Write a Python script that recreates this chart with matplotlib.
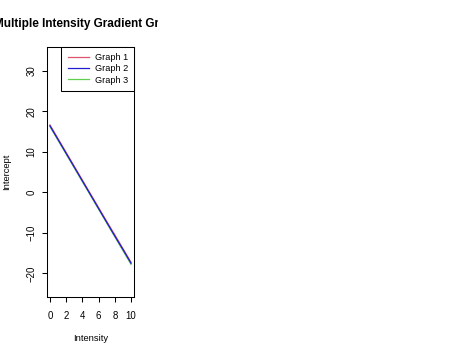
import numpy as np
import matplotlib
matplotlib.use("Agg")
import matplotlib.pyplot as plt
from matplotlib.transforms import Bbox, TransformedBbox

# Datos
intensity = [0, 1, 2, 3, 4, 5, 6, 7, 8, 9, 10]
graph1 = [16.6, 13.2, 9.8, 6.4, 3.0, -0.4, -3.8, -7.2, -10.5, -13.9, -17.3]
graph2 = [16.4, 13.0, 9.6, 6.2, 2.8, -0.6, -4.0, -7.4, -10.8, -14.1, -17.5]
graph3 = [16.2, 12.8, 9.4, 6.0, 2.6, -0.8, -4.2, -7.6, -11.0, -14.4, -17.8]
labels = ["Graph 1", "Graph 2", "Graph 3"]
colors = ["#DF536B", "#1E1ED0", "#61D04F"]
orden = [2.1, 2.2, 2.0]

plt.rcParams["font.family"] = ["Liberation Sans", "DejaVu Sans"]
fs = 6.9

fig = plt.figure(figsize=(4.74, 3.56), dpi=100)
ax = fig.add_axes([46.7/474, 1 - 297.3/356, 87.6/474, 250.6/356])

for serie, lab, col, z in zip([graph1, graph2, graph3], labels, colors, orden):
    ax.plot(intensity, serie, color=col, lw=0.9, label=lab, zorder=z)

ax.set_xlim(-0.4, 10.4)
ax.set_ylim(-25.9, 35.9)
ax.set_xticks([0, 2, 4, 6, 8, 10])
ax.set_yticks([-20, -10, 0, 10, 20, 30])
ax.tick_params(direction="out", length=3.6, width=0.75, labelsize=fs)
ax.tick_params(axis="x", pad=6.0)
ax.tick_params(axis="y", pad=4.0)
for lab in ax.get_yticklabels():
    lab.set_rotation(90)
    lab.set_va("center")
for sp in ax.spines.values():
    sp.set_linewidth(0.75)

ax.set_xlabel("Intensity", fontsize=6.77, va="center")
ax.xaxis.set_label_coords(0.5, -0.166)
ax.set_ylabel("Intercept", fontsize=6.77, va="center", ha="center")
ax.yaxis.set_label_coords(-0.455, 0.5)

leg = ax.legend(loc="upper right", bbox_to_anchor=(1, 1), borderaxespad=0,
                fontsize=6.6, handlelength=2.33, handletextpad=0.6,
                labelspacing=0.25, borderpad=0.7, fancybox=False,
                framealpha=1, edgecolor="black")
leg.get_frame().set_linewidth(0.75)

# Titulo recortado a la region de la figura
title = fig.text(90.5/474, 1 - 24/356, "Multiple Intensity Gradient Graphs",
                 fontsize=8.5, fontweight="bold", ha="center", va="center")
title.set_clip_box(TransformedBbox(Bbox([[0, 0], [158/474, 1]]), fig.transFigure))
title.set_clip_on(True)

fig.savefig("out.png", dpi=100)
